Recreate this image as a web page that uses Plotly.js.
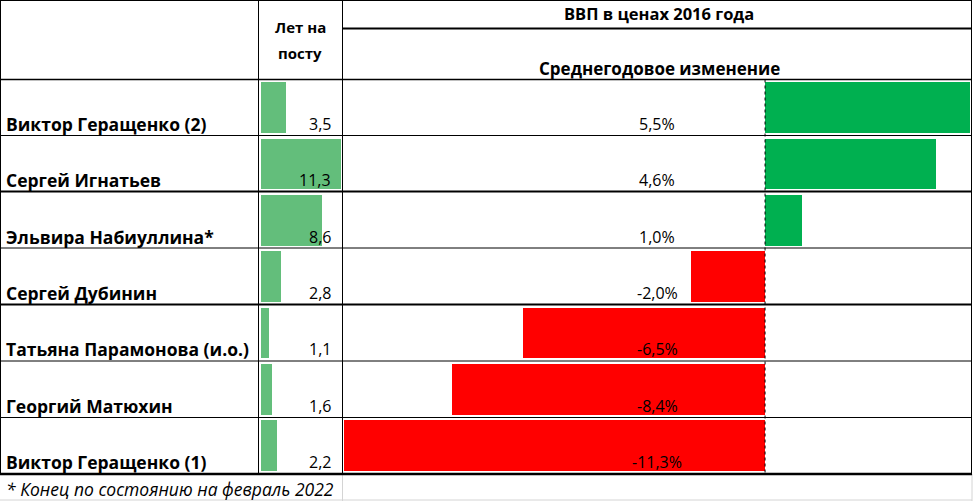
<!DOCTYPE html>
<html><head><meta charset="utf-8">
<script src="https://cdn.plot.ly/plotly-3.0.1.min.js"></script>
<style>html,body{margin:0;padding:0;background:#fff}#chart{width:974px;height:502px}</style>
</head><body><div id="chart"></div>
<script>
const names = ['Виктор Геращенко (2)', 'Сергей Игнатьев', 'Эльвира Набиуллина*', 'Сергей Дубинин',
  'Татьяна Парамонова (и.о.)', 'Георгий Матюхин', 'Виктор Геращенко (1)'];
const years = [3.5, 11.3, 8.6, 2.8, 1.1, 1.6, 2.2];
const gdp = [5.5, 4.6, 1.0, -2.0, -6.5, -8.4, -11.3];
const headerYears = ['Лет на', 'посту'];
const headerGdp = 'ВВП в ценах 2016 года';
const headerChange = 'Среднегодовое изменение';
const footnote = '* Конец по состоянию на февраль 2022';

const W = 974, H = 502;
const px = x => x / W;
const py = y => 1 - y / H;
const FONT = 'Open Sans, Noto Sans, sans-serif';
const fmt = v => v.toFixed(1).replace('.', ',');

const traces = [
  {type: 'bar', orientation: 'h', y: names, x: years, xaxis: 'x', yaxis: 'y',
   marker: {color: '#63BE7B'}, width: 0.9, hoverinfo: 'skip'},
  {type: 'bar', orientation: 'h', y: names, x: gdp, xaxis: 'x2', yaxis: 'y',
   marker: {color: gdp.map(v => v >= 0 ? '#00B050' : '#FF0000')}, width: 0.9, hoverinfo: 'skip'}
];

const ann = [];
names.forEach((n, i) => {
  ann.push({xref: 'paper', yref: 'y', x: px(4), y: i + 0.29, xanchor: 'left', yanchor: 'middle',
    text: '<b>' + n + '</b>', showarrow: false, font: {family: FONT, size: 17.5, color: '#000'}});
  ann.push({xref: 'paper', yref: 'y', x: px(333), y: i + 0.29, xanchor: 'right', yanchor: 'middle',
    text: fmt(years[i]), showarrow: false, font: {family: FONT, size: 16, color: '#000'}});
  ann.push({xref: 'paper', yref: 'y', x: px(657), y: i + 0.29, xanchor: 'center', yanchor: 'middle',
    text: fmt(gdp[i]) + '%', showarrow: false, font: {family: FONT, size: 16, color: '#000'}});
});
ann.push({xref: 'paper', yref: 'paper', x: px(300), y: py(27), xanchor: 'center', yanchor: 'middle',
  text: '<b>' + headerYears[0] + '</b>', showarrow: false, font: {family: FONT, size: 15, color: '#000'}});
ann.push({xref: 'paper', yref: 'paper', x: px(300), y: py(53), xanchor: 'center', yanchor: 'middle',
  text: '<b>' + headerYears[1] + '</b>', showarrow: false, font: {family: FONT, size: 15, color: '#000'}});
ann.push({xref: 'paper', yref: 'paper', x: px(659), y: py(14), xanchor: 'center', yanchor: 'middle',
  text: '<b>' + headerGdp + '</b>', showarrow: false, font: {family: FONT, size: 16.5, color: '#000'}});
ann.push({xref: 'paper', yref: 'paper', x: px(659), y: py(68), xanchor: 'center', yanchor: 'middle',
  text: '<b>' + headerChange + '</b>', showarrow: false, font: {family: FONT, size: 17, color: '#000'}});
ann.push({xref: 'paper', yref: 'paper', x: px(4), y: py(489), xanchor: 'left', yanchor: 'middle',
  text: '<i>' + footnote + '</i>', showarrow: false, font: {family: FONT, size: 17.5, color: '#000'}});

const shapes = [];
const hline = (y, x0, x1, w, c) => shapes.push({type: 'line', xref: 'paper', yref: 'paper',
  x0: px(x0), x1: px(x1), y0: py(y), y1: py(y), line: {color: c || '#000', width: w}});
const vline = (x, y0, y1, w, c) => shapes.push({type: 'line', xref: 'paper', yref: 'paper',
  x0: px(x), x1: px(x), y0: py(y0), y1: py(y1), line: {color: c || '#000', width: w}});

// light spreadsheet gridlines for footnote row
hline(500, 0, 972, 1, '#D4D4D4');
vline(342.5, 474, 501, 1, '#D4D4D4');
vline(972, 474, 501, 1, '#D4D4D4');
// table borders
hline(0.5, 0, 972, 1);
hline(28.5, 342, 972, 2);
hline(79.5, 0, 972, 1.5);
const rowLines = [135.5, 191.5, 248, 304.5, 361, 417.5];
const rowW = [1, 2, 1, 2, 1, 1];
rowLines.forEach((y, i) => hline(y, 0, 972, rowW[i]));
hline(474, 0, 972, 2.5);
vline(0.5, 0, 474, 1);
vline(258.5, 0, 474, 1);
vline(342.5, 0, 474, 1);
vline(971.5, 0, 474, 1);
// zero line of GDP data bars
shapes.push({type: 'line', xref: 'x2', yref: 'paper', x0: 0, x1: 0, y0: py(79.5), y1: py(474),
  line: {color: '#000', width: 1, dash: 'dot'}});

const layout = {
  width: W, height: H, margin: {l: 0, r: 0, t: 0, b: 0},
  paper_bgcolor: '#fff', plot_bgcolor: 'rgba(0,0,0,0)', showlegend: false,
  xaxis: {domain: [px(261), px(341)], range: [0, 11.3], visible: false, fixedrange: true},
  xaxis2: {domain: [px(344), px(970)], range: [-11.3, 5.5], visible: false, fixedrange: true, anchor: 'y'},
  yaxis: {domain: [py(474), py(79.5)], type: 'category', categoryorder: 'array', categoryarray: names,
    range: [6.5, -0.5], visible: false, fixedrange: true},
  bargap: 0,
  annotations: ann, shapes: shapes
};
Plotly.newPlot('chart', traces, layout, {staticPlot: true, displayModeBar: false});
</script></body></html>
